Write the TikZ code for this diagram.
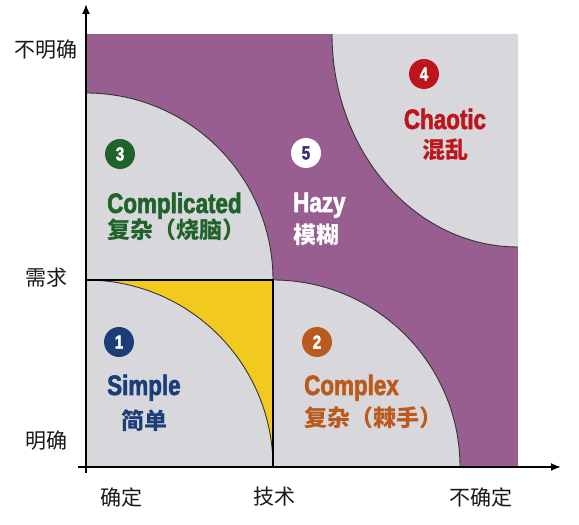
\documentclass[tikz,border=0pt]{standalone}
\usepackage{fontspec}
\setmainfont{Liberation Sans}
\newfontfamily\cjk{Noto Sans CJK SC}
\newfontfamily\cond[FakeStretch=0.8,FakeBold=2]{Liberation Sans Bold}
\usetikzlibrary{arrows.meta}
\definecolor{qpurple}{HTML}{985E8F}
\definecolor{qgray}{HTML}{D8D8DC}
\definecolor{qyellow}{HTML}{F2C91E}
\definecolor{qgreen}{HTML}{1F632A}
\definecolor{qred}{HTML}{BC161C}
\definecolor{qblue}{HTML}{1C3E78}
\definecolor{qorange}{HTML}{BA5A1E}
\definecolor{qnavy}{HTML}{3A2A6E}
\definecolor{arcc}{HTML}{333333}
\tikzset{
  arcline/.style={draw=arcc, line width=0.9pt},
  midline/.style={draw=black, line width=1.4pt},
  axisline/.style={draw=black, line width=1.8pt, -{Latex[length=10pt,width=8pt]}},
  numcirc/.style={circle, minimum size=30pt, inner sep=0pt, text=white,
    font=\cond\fontsize{19}{19}\selectfont},
  entext/.style={inner sep=0pt, font=\cond\fontsize{28}{28}\selectfont},
  cntext/.style={inner sep=0pt, font=\cjk\bfseries\fontsize{23}{23}\selectfont},
  axtext/.style={inner sep=0pt, font=\cjk\fontsize{21}{21}\selectfont, text=black!90}
}
\begin{document}
\begin{tikzpicture}[x=1pt,y=1pt]
\useasboundingbox (0,0) rectangle (579,525);
% background regions
\fill[qpurple] (86,58) rectangle (518,491);
\fill[qyellow] (86,58) rectangle (273,245);
\fill[qgray] (86,58) -- (273,58) arc[start angle=0,end angle=90,radius=187pt] -- cycle;
\fill[qgray] (86,245) -- (273,245) arc[start angle=0,end angle=90,radius=187pt] -- cycle;
\fill[qgray] (273,58) -- (460,58) arc[start angle=0,end angle=90,radius=187pt] -- cycle;
\fill[qgray] (518,491) -- (332,491) arc[start angle=180,end angle=270,x radius=186pt,y radius=213pt] -- cycle;
% arc outlines
\draw[arcline] (273,58) arc[start angle=0,end angle=90,radius=187pt];
\draw[arcline] (273,245) arc[start angle=0,end angle=90,radius=187pt];
\draw[arcline] (460,58) arc[start angle=0,end angle=90,radius=187pt];
\draw[arcline] (332,491) arc[start angle=180,end angle=270,x radius=186pt,y radius=213pt];
% centre lines
\coordinate (L) at (86,245);
\coordinate (M) at (273,245);
\coordinate (B) at (273,58);
\draw[midline] (L) -- (M) -- (B);
% axes
\coordinate (ys) at (86,52);
\coordinate (ye) at (86,521);
\coordinate (xs) at (78,58);
\coordinate (xe) at (561,58);
\draw[axisline] (ys) -- (ye);
\draw[axisline] (xs) -- (xe);
% axis labels
\node[axtext] (ytop) at (46,475) {不明确};
\node[axtext] (ymid) at (46,247) {需求};
\node[axtext] (ybot) at (46,84) {明确};
\node[axtext] (xl) at (121,28) {确定};
\node[axtext] (xm) at (274,28) {技术};
\node[axtext] (xr) at (481,28) {不确定};
% quadrant 3
\node[numcirc, fill=qgreen] (c3) at (120,371) {3};
\node[entext, text=qgreen, anchor=base west] (t3) at (107,312) {Complicated};
\node[cntext, text=qgreen, anchor=west] (z3) at (107,295) {复杂（烧脑）};
% quadrant 5
\node[numcirc, fill=white, text=qnavy] (c5) at (306,372) {5};
\node[entext, text=white, anchor=base west] (t5) at (293,313) {Hazy};
\node[cntext, text=white, anchor=west] (z5) at (293,290) {模糊};
% quadrant 4
\node[numcirc, fill=qred] (c4) at (424,451) {4};
\node[entext, text=qred, anchor=base] (t4) at (445,396) {Chaotic};
\node[cntext, text=qred] (z4) at (445,375) {混乱};
% quadrant 1
\node[numcirc, fill=qblue] (c1) at (119,183) {1};
\node[entext, text=qblue, anchor=base west] (t1) at (107,130) {Simple};
\node[cntext, text=qblue] (z1) at (144,104) {简单};
% quadrant 2
\node[numcirc, fill=qorange] (c2) at (317,183) {2};
\node[entext, text=qorange, anchor=base west] (t2) at (304,130) {Complex};
\node[cntext, text=qorange, anchor=west] (z2) at (304,107) {复杂（棘手）};
\end{tikzpicture}
\end{document}
